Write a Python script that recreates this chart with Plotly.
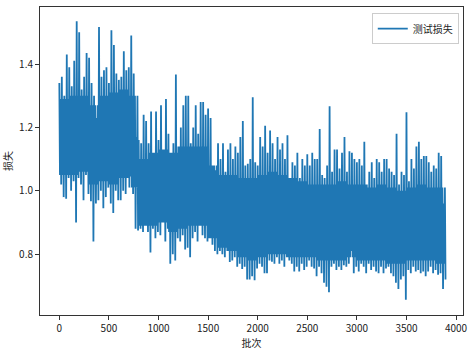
import plotly.graph_objects as go

# Per 25-batch block: upper and lower excursions of the test loss
block_size = 25
high = [
    1.34, 1.36, 1.30, 1.43, 1.39, 1.33, 1.41, 1.535, 1.50, 1.32, 1.36, 1.435,
    1.42, 1.34, 1.30, 1.23, 1.517, 1.36, 1.38, 1.39, 1.34, 1.507, 1.46, 1.37,
    1.35, 1.36, 1.44, 1.38, 1.39, 1.49, 1.37, 1.17,
    1.16, 1.15, 1.24, 1.22, 1.15, 1.25, 1.12, 1.25, 1.16, 1.27, 1.13, 1.29,
    1.18, 1.12, 1.15, 1.367, 1.14, 1.20, 1.27, 1.30, 1.30, 1.15, 1.20, 1.27,
    1.18, 1.28, 1.28, 1.24, 1.26, 1.23, 1.08, 1.065,
    1.15, 1.10, 1.15, 1.06, 1.13, 1.15, 1.10, 1.14, 1.12, 1.17, 1.22, 1.08,
    1.085, 1.10, 1.295, 1.09, 1.08, 1.17, 1.14, 1.205, 1.12, 1.19, 1.15, 1.10,
    1.17, 1.13, 1.15, 1.10, 1.175, 1.04, 1.09, 1.08, 1.12, 1.04, 1.10, 1.08,
    1.115, 1.08, 1.12, 1.10, 1.10, 1.195, 1.05, 1.04, 1.08, 1.267, 1.06, 1.13,
    1.13, 1.07, 1.12, 1.17, 1.06, 1.125, 1.12, 1.10, 1.09, 1.10, 1.08, 1.155,
    1.02, 1.06, 1.09, 1.04, 1.10, 1.09, 1.06, 1.10, 1.10, 1.07, 1.06, 1.05,
    1.18, 1.02, 1.06, 1.05, 1.248, 1.03, 1.10, 1.07, 1.14, 1.155, 1.10, 1.11,
    1.11, 1.09, 1.06, 1.08, 1.07, 1.12, 1.11, 0.96,
]
low = [
    1.02, 0.98, 0.975, 1.04, 1.00, 1.03, 0.90, 1.04, 1.02, 0.97, 1.05, 0.99,
    0.967, 0.84, 0.96, 0.97, 1.00, 0.945, 0.98, 1.01, 0.96, 0.93, 1.00, 0.97,
    0.97, 1.00, 0.99, 1.04, 1.045, 0.99, 0.88, 0.875,
    0.88, 0.87, 0.89, 0.87, 0.805, 0.88, 0.85, 0.87, 0.86, 0.90, 0.84, 0.88,
    0.77, 0.80, 0.78, 0.85, 0.84, 0.86, 0.815, 0.82, 0.79, 0.85, 0.87, 0.84,
    0.89, 0.86, 0.85, 0.84, 0.85, 0.83, 0.81, 0.80,
    0.81, 0.80, 0.79, 0.81, 0.775, 0.78, 0.79, 0.76, 0.77, 0.753, 0.76, 0.72,
    0.72, 0.73, 0.718, 0.755, 0.77, 0.76, 0.74, 0.74, 0.78, 0.776, 0.77, 0.79,
    0.77, 0.78, 0.76, 0.79, 0.78, 0.77, 0.745, 0.76, 0.745, 0.77, 0.75, 0.76,
    0.78, 0.76, 0.755, 0.73, 0.76, 0.74, 0.71, 0.697, 0.68, 0.76, 0.77, 0.75,
    0.76, 0.75, 0.765, 0.76, 0.77, 0.81, 0.74, 0.76, 0.745, 0.77, 0.76, 0.74,
    0.77, 0.75, 0.76, 0.745, 0.74, 0.76, 0.74, 0.755, 0.76, 0.74, 0.73, 0.71,
    0.69, 0.72, 0.73, 0.656, 0.75, 0.74, 0.76, 0.745, 0.75, 0.74, 0.745, 0.73,
    0.745, 0.76, 0.74, 0.75, 0.735, 0.74, 0.69, 0.72,
]
# Per 100-batch group: edges of the dense core of the loss band
group_size = 100
core_high = [
    1.29, 1.30, 1.30, 1.27, 1.30, 1.31, 1.32, 1.30,
    1.10, 1.12, 1.13, 1.12, 1.14, 1.14, 1.14, 1.08,
    1.05, 1.05, 1.04, 1.04, 1.05, 1.06, 1.05, 1.04, 1.03,
    1.02, 1.02, 1.02, 1.03, 1.02, 1.02, 1.01, 1.02, 1.01, 1.00, 1.01, 1.02, 1.01, 1.01,
]
core_low = [
    1.05, 1.05, 1.06, 1.02, 1.03, 1.02, 1.04, 1.01,
    0.89, 0.89, 0.90, 0.87, 0.88, 0.89, 0.89, 0.85,
    0.82, 0.81, 0.79, 0.78, 0.79, 0.80, 0.80, 0.79, 0.79,
    0.79, 0.78, 0.78, 0.78, 0.79, 0.78, 0.78, 0.78, 0.77, 0.77, 0.78, 0.78, 0.78, 0.77,
]
x_ticks = [0, 500, 1000, 1500, 2000, 2500, 3000, 3500, 4000]
y_ticks = [0.8, 1.0, 1.2, 1.4]

batches, losses = [], []
for i, (h, l) in enumerate(zip(high, low)):
    start = i * block_size
    g = start // group_size
    batches += [start, start + block_size / 4, start + block_size / 2, start + 3 * block_size / 4]
    losses += [h, core_low[g], core_high[g], l]

font = "Noto Sans CJK SC"
fig = go.Figure()
fig.add_trace(go.Scatter(x=batches, y=losses, mode="lines", name="测试损失",
                         line=dict(color="#1f77b4", width=1.8, simplify=False)))

axis_common = dict(showline=True, linecolor="#333333", linewidth=1, mirror=True,
                   ticks="outside", ticklen=4, tickcolor="#333333", showgrid=False,
                   zeroline=False, tickfont=dict(family=font, size=10, color="#222"))
fig.update_xaxes(range=[-195, 4070], tickvals=x_ticks,
                 title=dict(text="批次", font=dict(family=font, size=10, color="#222"), standoff=4),
                 **axis_common)
fig.update_yaxes(range=[0.608, 1.58], tickvals=y_ticks, ticktext=[f"{v:.1f}" for v in y_ticks],
                 title=dict(text="损失", font=dict(family=font, size=10, color="#222"), standoff=6),
                 **axis_common)
fig.update_layout(width=474, height=352, margin=dict(l=40, r=7, t=6, b=34),
                  plot_bgcolor="white", paper_bgcolor="white",
                  font=dict(family=font, size=10),
                  legend=dict(x=0.99, y=0.98, xanchor="right", yanchor="top",
                              itemwidth=30, tracegroupgap=0,
                              bgcolor="white", bordercolor="#cccccc", borderwidth=1,
                              font=dict(family=font, size=10, color="#222")),
                  showlegend=True)
fig.write_html("out.html")
